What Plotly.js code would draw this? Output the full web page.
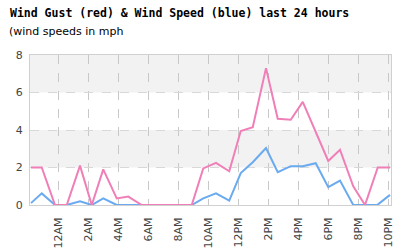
<!DOCTYPE html>
<html>
<head>
<meta charset="utf-8">
<script src="https://cdn.plot.ly/plotly-3.0.1.min.js"></script>
<style>html,body{margin:0;padding:0;background:#fff}#chart{width:400px;height:250px}</style>
</head>
<body>
<div id="chart"></div>
<script>
var times = [
  "2024-05-31 22:12","2024-05-31 22:55","2024-05-31 23:48","2024-06-01 00:35","2024-06-01 01:28",
  "2024-06-01 02:15","2024-06-01 03:01","2024-06-01 03:55","2024-06-01 04:41","2024-06-01 05:35",
  "2024-06-01 06:24","2024-06-01 07:14","2024-06-01 08:04","2024-06-01 08:55","2024-06-01 09:41",
  "2024-06-01 10:32","2024-06-01 11:25","2024-06-01 12:11","2024-06-01 12:59","2024-06-01 13:52",
  "2024-06-01 14:39","2024-06-01 15:31","2024-06-01 16:19","2024-06-01 17:11","2024-06-01 18:01",
  "2024-06-01 18:48","2024-06-01 19:41","2024-06-01 20:28","2024-06-01 21:19","2024-06-01 22:08"
];
var gust = [2.0, 2.0, 0, 0, 2.1, 0, 1.9, 0.35, 0.45, 0,
            0, 0, 0, 0, 1.95, 2.25, 1.8, 3.95, 4.15, 7.3,
            4.6, 4.55, 5.5, 3.9, 2.35, 2.95, 1.0, 0, 2.0, 2.0];
var speed = [0.1, 0.62, 0, 0, 0.2, 0, 0.35, 0, 0, 0,
             0, 0, 0, 0, 0.35, 0.62, 0.23, 1.7, 2.28, 3.04,
             1.75, 2.07, 2.07, 2.23, 0.95, 1.3, 0, 0, 0.02, 0.54];
var bands = [[2, 4], [6, 8]];
var titleText = "Wind Gust (red) &amp; Wind Speed (blue) last 24 hours";
var subtitleText = "(wind speeds in mph";

var shapes = bands.map(function (b) {
  return {type: "rect", xref: "paper", yref: "y", x0: 0, x1: 1, y0: b[0], y1: b[1],
          fillcolor: "#f2f2f2", line: {width: 0}, layer: "below"};
});

var data = [
  {x: times, y: speed, type: "scatter", mode: "lines", name: "Wind Speed",
   line: {color: "#6aaaf0", width: 2}},
  {x: times, y: gust, type: "scatter", mode: "lines", name: "Wind Gust",
   line: {color: "#f07fb8", width: 2}}
];

var layout = {
  width: 400, height: 250,
  margin: {l: 30, r: 9, t: 55, b: 45, pad: 0},
  paper_bgcolor: "#ffffff", plot_bgcolor: "#ffffff",
  showlegend: false,
  font: {family: "DejaVu Sans", size: 11, color: "#444"},
  title: {text: "<b>" + titleText + "</b>", xref: "container", yref: "container",
          x: 0.025, xanchor: "left", y: 0.948, yanchor: "middle",
          font: {family: "DejaVu Sans Mono", size: 11.5, color: "#000"}},
  annotations: [{text: subtitleText, xref: "paper", yref: "paper", x: -0.061, xanchor: "left",
                 y: 1.16, yanchor: "middle", showarrow: false, borderpad: 0,
                 font: {family: "DejaVu Sans", size: 11, color: "#000"}}],
  shapes: shapes,
  xaxis: {
    type: "date", range: ["2024-05-31 22:08", "2024-06-01 22:12"],
    tick0: "2024-06-01 00:00", dtick: 7200000, tickformat: "%-I%p", tickangle: -90,
    showgrid: true, gridcolor: "#c8c8c8", griddash: "dash", gridwidth: 1,
    showline: true, linecolor: "#d0d0d0", linewidth: 1, mirror: true,
    ticks: "", ticklabelstandoff: 7, zeroline: false,
    tickfont: {family: "DejaVu Sans", size: 11, color: "#444"}
  },
  yaxis: {
    range: [0, 8], dtick: 2, tick0: 0,
    showgrid: true, gridcolor: "#d8d8d8", griddash: "dash", gridwidth: 1,
    showline: true, linecolor: "#d0d0d0", linewidth: 1, mirror: true,
    ticks: "", ticklabelstandoff: 4, zeroline: false,
    tickfont: {family: "DejaVu Sans", size: 11, color: "#444"}
  }
};

Plotly.newPlot("chart", data, layout, {displayModeBar: false, staticPlot: true});
</script>
</body>
</html>
